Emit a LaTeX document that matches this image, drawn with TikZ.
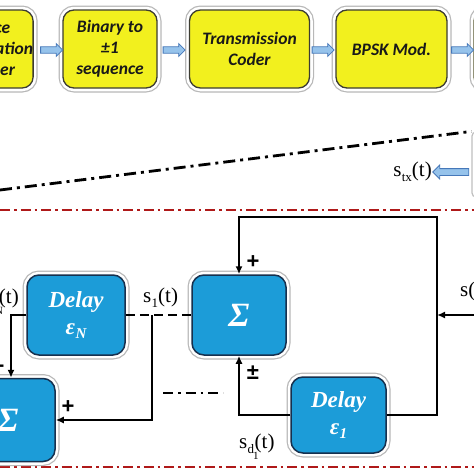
\documentclass[tikz,border=0pt]{standalone}
\usepackage{fontspec}
\setmainfont{Liberation Serif}
\newfontfamily\boxfont{Carlito}
\newfontfamily\pmfont{Liberation Sans}
\usetikzlibrary{arrows.meta,shapes.arrows}
\definecolor{yfill}{RGB}{242,240,30}
\definecolor{ybord}{RGB}{60,60,50}
\definecolor{bfill}{RGB}{28,156,216}
\definecolor{bbord}{RGB}{22,48,78}
\definecolor{afill}{RGB}{150,195,235}
\definecolor{abord}{RGB}{70,120,185}
\definecolor{dred}{RGB}{175,25,25}
\definecolor{olivb}{RGB}{90,90,50}
\newcommand{\sigone}[1]{s\kern0.3pt\lower5pt\hbox{\fontsize{13}{13}\selectfont #1}(t)}
\newcommand{\sigdd}[1]{s\kern0.3pt\lower5pt\hbox{\fontsize{13}{13}\selectfont d\kern-1pt\lower6pt\hbox{\fontsize{11}{11}\selectfont #1}}\kern-4pt(t)}
\newcommand{\epsl}[1]{ε\kern0.5pt\lower4pt\hbox{\fontsize{15}{15}\selectfont #1}}
\tikzset{
 ring/.style={preaction={draw=black!28, line width=9pt}, preaction={draw=white, line width=6.5pt}},
 ybox/.style={ring, draw=ybord, line width=1.3pt, fill=yfill, rounded corners=11pt, inner sep=0pt, align=center, font=\boxfont\bfseries\itshape\fontsize{17.5}{21}\selectfont, text=black!90, minimum height=78pt},
 bbox/.style={ring, draw=bbord, line width=1.5pt, fill=bfill, rounded corners=12pt, inner sep=0pt, align=center, text=white},
 delaytxt/.style={font=\bfseries\itshape\fontsize{23}{27}\selectfont},
 sigmatxt/.style={font=\bfseries\itshape\fontsize{34}{34}\selectfont},
 barrow/.style={single arrow, draw=abord, fill=afill, line width=0.8pt, minimum height=22pt, inner sep=2.8pt, single arrow head extend=3.2pt},
 wire/.style={draw=black, line width=1.7pt},
 arr/.style={wire, -{Latex[length=8pt,width=7pt]}},
 lbl/.style={font=\fontsize{21}{21}\selectfont, inner sep=0pt},
 pm/.style={font=\pmfont\bfseries\fontsize{22}{22}\selectfont, inner sep=0pt},
 reddash/.style={draw=dred, line width=2pt, dash pattern=on 10pt off 4pt on 2.5pt off 4pt},
 blkdash/.style={draw=black, line width=2.8pt, dash pattern=on 12pt off 5pt on 3pt off 5pt},
 sigdash/.style={draw=black, line width=1.8pt, dash pattern=on 9pt off 5pt},
 shortdd/.style={draw=black, line width=2pt, dash pattern=on 10pt off 5pt on 2.5pt off 5pt},
}
\begin{document}
\begin{tikzpicture}[x=1pt,y=-1pt]
\useasboundingbox (0,0) rectangle (474,474);
\clip (0,0) rectangle (474,474);
\fill[white] (0,0) rectangle (474,474);
% top chain
\node[ybox, minimum width=94pt] (y1) at (-14,49) {Source\\Quantization\\Encoder};
\node[ybox, minimum width=94pt] (y2) at (110,49) {Binary to\\±1\\sequence};
\node[ybox, minimum width=120pt] (y3) at (249.5,49) {Transmission\\Coder};
\node[ybox, minimum width=111pt] (y4) at (391.5,49) {BPSK Mod.};
\node[ybox, minimum width=96pt, draw=olivb, fill=olivb!30] (y5) at (522,49) {};
\node[barrow] (a12) at (50,50) {};
\node[barrow] (a23) at (172.5,50) {};
\node[barrow] (a34) at (321.5,50) {};
\node[barrow] (a45) at (461,50) {};
% middle
\node[draw=black!25, line width=1.2pt, fill=white, rounded corners=4pt, minimum width=96pt, minimum height=65pt] (gb) at (520,164.5) {};
\coordinate (zl) at (0,190);
\draw[blkdash] (zl) -- (gb.north west);
\node[barrow, shape border rotate=180, minimum height=36pt, inner sep=3pt, single arrow head extend=3.5pt] (atx) at (452.5,172) {};
\node[lbl, anchor=base east] (stx) at (432,176) {\sigone{tx}};
\coordinate (r1l) at (0,210); \coordinate (r1r) at (474,210);
\coordinate (r2l) at (0,467); \coordinate (r2r) at (474,467);
\draw[reddash] (r1l) -- (r1r);
\draw[reddash] (r2l) -- (r2r);
% bottom
\node[bbox, minimum width=94pt, minimum height=80pt, sigmatxt] (sc) at (239,315) {Σ};
\node[bbox, minimum width=98pt, minimum height=80pt, delaytxt] (dN) at (76,315) {Delay\\\epsl{N}};
\node[bbox, minimum width=95pt, minimum height=76pt, delaytxt] (d1) at (338.5,415) {Delay\\\epsl{1}};
\node[bbox, minimum width=94pt, minimum height=83pt, sigmatxt] (sl) at (8,420) {Σ};
\coordinate (rv) at (437,315);
\coordinate (top) at (437,217);
\coordinate (sin) at (480,315);
\coordinate (br) at (152,315);
\coordinate (lk) at (11,315);
\coordinate (m1) at (163,393);
\coordinate (m2) at (223,393);
\draw[wire] (d1.east) -| (rv);
\draw[arr] (rv) -- (top) -| (sc.north);
\draw[arr] (sin) -- (rv);
\draw[arr] (d1.west) -| (sc.south);
\draw[sigdash] (dN.east) -- (sc.west);
\draw[arr] (br) |- (sl.east);
\draw[arr] (dN.west) -- (lk) -- (lk |- sl.north);
\draw[shortdd] (m1) -- (m2);
% labels
\node[lbl, anchor=base west] (s1) at (143,302) {\sigone{1}};
\node[lbl, anchor=base east] (sdN) at (19,303) {\sigdd{N}};
\node[lbl, anchor=base west] (sd1) at (239,448) {\sigdd{1}};
\node[lbl, anchor=base west] (st) at (460,296) {s(t)};
\node[pm] (p1) at (253,262) {+};
\node[pm] (p2) at (253,373) {±};
\node[pm] (p3) at (68,407) {+};
\node[pm] (p4) at (-2,367) {+};
\end{tikzpicture}
\end{document}
